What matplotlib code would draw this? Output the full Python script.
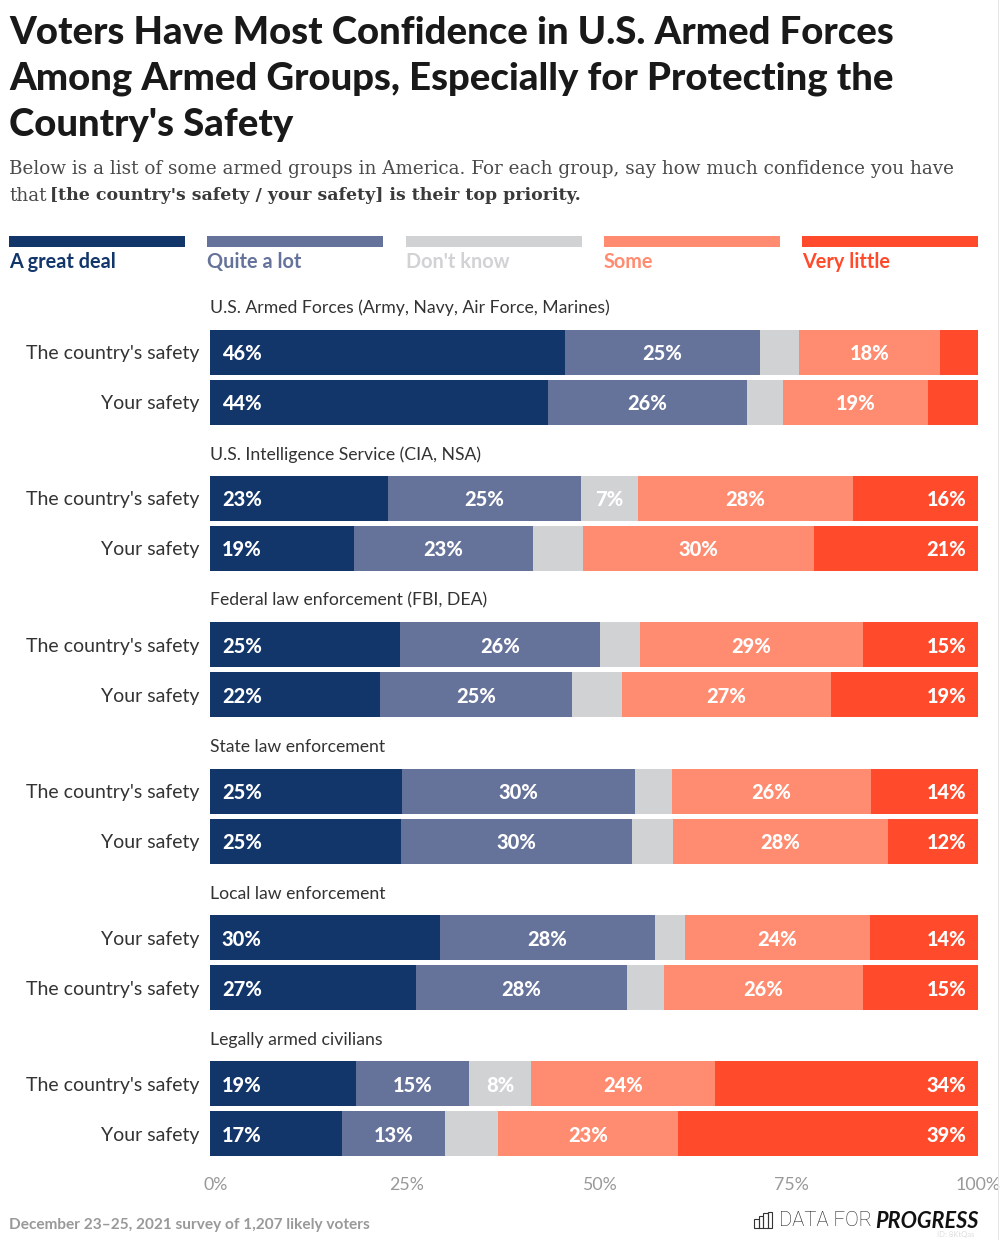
import matplotlib

matplotlib.use('Agg')

from matplotlib import pyplot as plt
from matplotlib.patches import Rectangle
from matplotlib.transforms import ScaledTranslation

##### Data #####

groups = ['U.S. Armed Forces (Army, Navy, Air Force, Marines)',
          'U.S. Intelligence Service (CIA, NSA)',
          'Federal law enforcement (FBI, DEA)',
          'State law enforcement',
          'Local law enforcement',
          'Legally armed civilians']

rowLabels = [["The country's safety", 'Your safety'],
             ["The country's safety", 'Your safety'],
             ["The country's safety", 'Your safety'],
             ["The country's safety", 'Your safety'],
             ['Your safety', "The country's safety"],
             ["The country's safety", 'Your safety']]

responses = ['A great deal', 'Quite a lot', "Don't know", 'Some', 'Very little']
colors = ['#12356a', '#65729a', '#d1d2d4', '#ff8c70', '#ff4a2b']

greatDeal = [46.2, 44.0, 23.2, 18.7, 24.7, 22.1, 25.0, 24.9, 29.9, 26.8, 19.0, 17.2]
quiteALot = [25.4, 25.9, 25.1, 23.3, 26.1, 25.0, 30.4, 30.1, 28.1, 27.5, 14.7, 13.4]
dontKnow = [5.1, 4.7, 7.4, 6.6, 5.2, 6.5, 4.7, 5.3, 3.8, 4.8, 8.1, 6.9]
some = [18.4, 18.9, 28.0, 30.0, 29.0, 27.3, 26.0, 28.0, 24.1, 25.9, 24.0, 23.4]
veryLittle = [4.9, 6.5, 16.3, 21.4, 15.0, 19.1, 13.9, 11.7, 14.1, 15.0, 34.2, 39.1]

xTicks = [0, 25, 50, 75, 100]

##### Layout helpers (pixel coordinates, origin top left) #####

W = 1000
H = 1240
SANS = 'Lato'
SERIF = 'DejaVu Serif'

fig = plt.figure(figsize=(W / 100, H / 100), dpi=100)

def put_text(x, y, s, **kwargs):
	fig.text(x / W, 1 - y / H, s, **kwargs)

def put_rect(x, y, w, h, color):
	fig.add_artist(Rectangle((x / W, 1 - (y + h) / H), w / W, h / H, transform=fig.transFigure, color=color, linewidth=0))

##### Headline block #####

titleLines = ['Voters Have Most Confidence in U.S. Armed Forces',
              'Among Armed Groups, Especially for Protecting the',
              "Country's Safety"]
for idx, line in enumerate(titleLines):
	put_text(9, 33 + idx * 46, line, fontsize=27.5, fontweight='black', family=SANS, color='#191919', va='center')

put_text(9, 169, 'Below is a list of some armed groups in America. For each group, say how much confidence you have',
         fontsize=13.25, family=SERIF, color='#4a4a4a', va='center')
put_text(9, 196, 'that', fontsize=13.25, family=SERIF, color='#4a4a4a', va='center')
put_text(50, 196, "[the country's safety / your safety] is their top priority.",
         fontsize=12.5, family=SERIF, fontweight='bold', color='#3a3a3a', va='center')

##### Legend #####

legendX = [9, 207, 406, 604, 802]
for idx, name in enumerate(responses):
	put_rect(legendX[idx], 236, 176, 11, colors[idx])
	put_text(legendX[idx], 262, name, fontsize=14.3, family=SANS, fontweight='bold', color=colors[idx], va='center')

##### Stacked bars #####

ax = fig.add_axes([210 / W, 1 - 1160 / H, 768 / W, (1160 - 322) / H])
ax.set_xlim(0, 100)
ax.set_ylim(1160, 322)

series = [greatDeal, quiteALot, dontKnow, some, veryLittle]
rowY = []
for g in range(len(groups)):
	top = 352 + g * 146.4
	rowY += [top, top + 50]

left = [0.0] * len(rowY)
for s, values in enumerate(series):
	ax.barh(rowY, values, height=45, left=left, color=colors[s], linewidth=0)
	for idx, val in enumerate(values):
		if val >= 7:
			if s == 0:
				ax.annotate('%.0f%%' % val, (left[idx], rowY[idx]), xytext=(8.5, 0), textcoords='offset points',
				            ha='left', va='center_baseline', color='white', fontsize=14.4, fontweight='black', family=SANS)
			elif s == 4:
				ax.annotate('%.0f%%' % val, (left[idx] + val, rowY[idx]), xytext=(-8.5, 0), textcoords='offset points',
				            ha='right', va='center_baseline', color='white', fontsize=14.4, fontweight='black', family=SANS)
			else:
				ax.text(left[idx] + val / 2, rowY[idx], '%.0f%%' % val, ha='center', va='center_baseline',
				        color='white', fontsize=14.4, fontweight='black', family=SANS)
		left[idx] += val

# group headers and row labels sit outside the bars
for g, name in enumerate(groups):
	put_text(210, 308 + g * 146.4, name, fontsize=12.7, family=SANS, color='#333333', va='center')
	for r, label in enumerate(rowLabels[g]):
		put_text(199, rowY[g * 2 + r] + 1.5, label, fontsize=14.0, family=SANS, color='#333333', ha='right', va='center')

for side in ['top', 'right', 'left', 'bottom']:
	ax.spines[side].set_visible(False)
ax.set_yticks([])
ax.set_xticks(xTicks)
ax.set_xticklabels(['%d%%' % t for t in xTicks], fontsize=12.8, family=SANS, color='#999999')
ax.tick_params(axis='x', length=0, pad=12)

# tick labels sit slightly right of their positions, except the last which stays inside the figure
tickShifts = [6, 5, 5, 5, 0]
for tickLabel, px in zip(ax.get_xticklabels(), tickShifts):
	shift = ScaledTranslation(px / 100, 0, fig.dpi_scale_trans)
	tickLabel.set_transform(tickLabel.get_transform() + shift)

##### Footer #####

put_text(9, 1225, 'December 23\u201325, 2021 survey of 1,207 likely voters', fontsize=11.05, family=SANS, fontweight='bold', color='#999999', va='center')

# small bar chart logo
for bx, by in [(754, 1219), (758.5, 1216), (763, 1213), (767.5, 1212)]:
	fig.add_artist(Rectangle((bx / W, 1 - 1228 / H), 4.5 / W, (1228 - by) / H, transform=fig.transFigure,
	                         facecolor='none', edgecolor='#333333', linewidth=0.8))
put_text(779, 1221, 'DATA FOR', fontsize=14.6, family='Roboto', fontweight='light', color='#222222', va='center')
put_text(875, 1221, 'PROGRESS', fontsize=15.6, family=SANS, fontweight='bold', style='italic', color='#111111', va='center')
put_text(937, 1235, 'ID: 8KtQas', fontsize=5.5, family=SANS, color='#dddddd', va='center')

# thin page edge on the right
put_rect(998, 0, 1, H, '#e6e6e6')

plt.savefig('out.png', dpi=100)
